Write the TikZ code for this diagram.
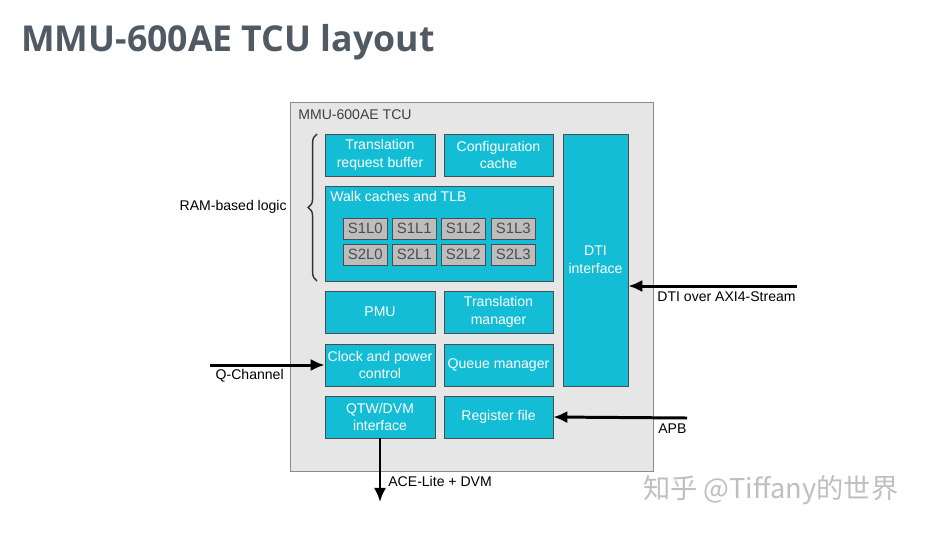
\documentclass[tikz,border=0pt]{standalone}
\usepackage{fontspec}
\setmainfont{Liberation Sans}
\newfontfamily\titlefont{Open Sans}
\newfontfamily\cjk{Noto Sans CJK SC}
\usetikzlibrary{arrows.meta,decorations.pathreplacing}
\definecolor{tcuteal}{HTML}{13BDD5}
\definecolor{tcugray}{HTML}{E6E6E6}
\definecolor{lvlgray}{HTML}{BDBDBD}
\definecolor{titlegray}{HTML}{505A64}
\tikzset{
  blk/.style={draw=black!70,fill=tcuteal,text=white,align=center,inner sep=0pt,font=\fontsize{8}{10}\selectfont},
  lvl/.style={draw=black!70,fill=lvlgray,text=black!70,inner sep=0pt,minimum width=0.88cm,minimum height=0.42cm,font=\fontsize{8.5}{10}\selectfont},
  sig/.style={line width=1.7pt,-{Latex[length=8pt,width=7pt]}},
  lbl/.style={font=\fontsize{8}{10}\selectfont,inner sep=0pt}
}
\begin{document}
\begin{tikzpicture}[x=0.02cm,y=-0.02cm]
		\useasboundingbox[fill=white] (0,0) rectangle (927,532);
		\node[anchor=west,text=titlegray,font=\titlefont\bfseries\fontsize{20.3}{24}\selectfont,inner sep=0pt] (title) at (21,42) {MMU-600AE TCU layout};
		% TCU frame
		\draw[black!45,fill=tcugray] (290,102) rectangle (653,471);
		\node[anchor=west,lbl,text=black!75] (tcu) at (298,115) {MMU-600AE TCU};
		% blocks
		\node[blk,minimum width=2.2cm,minimum height=0.84cm] (trb) at (380,155) {Translation\\request buffer};
		\node[blk,minimum width=2.18cm,minimum height=0.84cm] (cfg) at (498.5,155) {Configuration\\cache};
		\node[blk,minimum width=4.56cm,minimum height=1.9cm] (walk) at (439,233.5) {};
		\node[anchor=west,lbl,text=white] (walkt) at (330,196) {Walk caches and TLB};
		\foreach \n [count=\i from 0] in {343,392,441,491}{
			\node[lvl,anchor=north west] (s1l\i) at (\n,218) {S1L\i};
			\node[lvl,anchor=north west] (s2l\i) at (\n,244) {S2L\i};
		}
		\node[blk,minimum width=1.3cm,minimum height=5.04cm] (dti) at (595.5,260) {DTI\\interface};
		\node[blk,minimum width=2.2cm,minimum height=0.84cm] (pmu) at (380,312) {PMU};
		\node[blk,minimum width=2.18cm,minimum height=0.84cm] (tm) at (498.5,312) {Translation\\manager};
		\node[blk,minimum width=2.2cm,minimum height=0.84cm] (clk) at (380,365) {Clock and power\\control};
		\node[blk,minimum width=2.18cm,minimum height=0.84cm] (qm) at (498.5,365) {Queue manager};
		\node[blk,minimum width=2.2cm,minimum height=0.84cm] (qtw) at (380,417) {QTW/DVM\\interface};
		\node[blk,minimum width=2.18cm,minimum height=0.84cm] (reg) at (498.5,417) {Register file};
		% brace
		\draw[black!80,thick,decorate,decoration={brace,amplitude=5pt}] (317,281) -- (317,134);
		\node[anchor=east,lbl] (ram) at (287,207) {RAM-based logic};
		% signals
		\coordinate (dtiin) at (797,286);
		\coordinate (qin) at (210,365);
		\coordinate (apbin) at (687,418);
		\coordinate (aceout) at (380,502);
		\draw[sig] (dtiin) -- (dti.east |- dtiin);
		\draw[sig] (qin) -- (clk.west);
		\draw[sig] (apbin) -- (reg.east);
		\draw[sig] (qtw.south) -- (aceout);
		\node[anchor=east,lbl] (dtil) at (796,297) {DTI over AXI4-Stream};
		\node[anchor=east,lbl] (ql) at (284,376) {Q-Channel};
		\node[anchor=west,lbl] (apbl) at (658,429) {APB};
		\node[anchor=west,lbl] (acel) at (388,481) {ACE-Lite + DVM};
		\node[anchor=west,text=black!25,inner sep=0pt,font=\cjk\fontsize{15.5}{18}\selectfont] (wm) at (643,490) {知乎 @Tiffany的世界};
	\end{tikzpicture}
\end{document}
